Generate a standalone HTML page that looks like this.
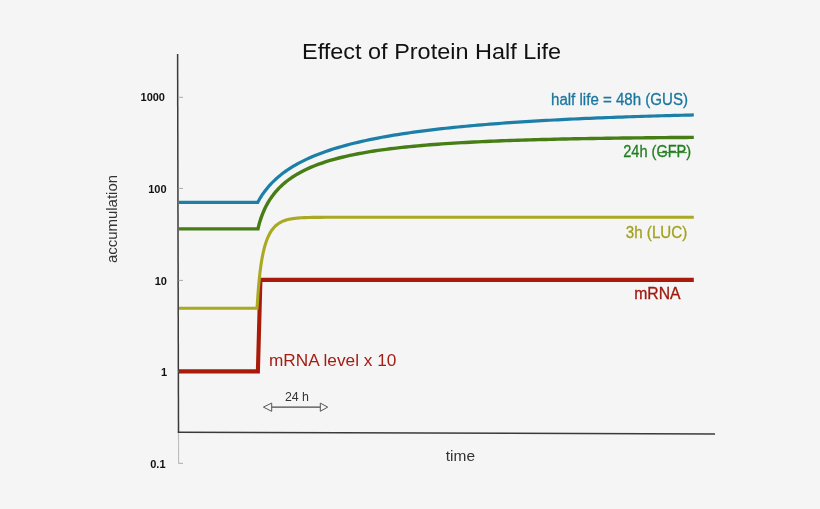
<!DOCTYPE html>
<html><head><meta charset="utf-8"><style>
html,body{margin:0;padding:0;background:#f5f5f5;}
svg{display:block;will-change:transform;}
text{font-family:"Liberation Sans",sans-serif;}
</style></head><body>
<svg width="820" height="509" viewBox="0 0 820 509">
<rect width="820" height="509" fill="#f5f5f5"/>
<text x="302" y="58.8" font-size="22.5" fill="#111" textLength="259" lengthAdjust="spacingAndGlyphs">Effect of Protein Half Life</text>
<!-- axes -->
<line x1="177.6" y1="54" x2="178.5" y2="432.8" stroke="#3a3a3a" stroke-width="1.5"/>
<line x1="178.5" y1="432.8" x2="178.6" y2="463.6" stroke="#bdbdbd" stroke-width="1.1"/>
<line x1="177.8" y1="432.3" x2="715" y2="433.9" stroke="#3a3a3a" stroke-width="1.5"/>
<g stroke="#aaa" stroke-width="1">
<line x1="178.5" y1="97.3" x2="183" y2="97.3"/>
<line x1="178.5" y1="188.4" x2="183" y2="188.4"/>
<line x1="178.5" y1="280.4" x2="183" y2="280.4"/>
<line x1="178.5" y1="371.6" x2="183" y2="371.6"/>
<line x1="178.5" y1="463.3" x2="183" y2="463.3"/>
</g>
<g font-size="11" font-weight="bold" fill="#111" text-anchor="end">
<text x="165" y="100.8">1000</text>
<text x="166.5" y="192.8">100</text>
<text x="167" y="284.8">10</text>
<text x="167" y="375.8">1</text>
<text x="165.5" y="467.8">0.1</text>
</g>
<text transform="translate(116.8,263) rotate(-90)" font-size="14.5" fill="#333" textLength="88" lengthAdjust="spacingAndGlyphs">accumulation</text>
<text x="445.8" y="460.6" font-size="14" fill="#333" textLength="29.2" lengthAdjust="spacingAndGlyphs">time</text>
<!-- data -->
<g fill="none" stroke-linejoin="miter">
<path d="M179,371.4 L257.9,371.4 L260.4,279.9 L693.8,279.9" stroke="#a81a0a" stroke-width="4.1"/>
<path d="M179.00,308.30 L257.00,308.30 L257.00,308.30 L257.25,304.97 L257.50,301.20 L257.75,297.50 L258.00,293.98 L258.25,290.65 L258.50,287.52 L258.75,284.58 L259.00,281.83 L259.25,279.24 L259.50,276.80 L259.75,274.51 L260.00,272.35 L261.00,264.78 L262.00,258.62 L263.00,253.49 L264.00,249.16 L265.00,245.46 L266.00,242.28 L267.00,239.51 L268.00,237.09 L269.00,234.97 L270.00,233.10 L271.00,231.44 L272.00,229.97 L273.00,228.66 L274.00,227.49 L275.00,226.44 L276.00,225.51 L277.00,224.67 L278.00,223.92 L279.00,223.25 L280.00,222.64 L281.00,222.10 L282.00,221.61 L283.00,221.17 L284.00,220.78 L285.00,220.42 L286.00,220.10 L287.00,219.81 L288.00,219.55 L289.00,219.32 L290.00,219.11 L291.00,218.92 L292.00,218.75 L293.00,218.60 L294.00,218.46 L295.00,218.34 L296.00,218.23 L297.00,218.13 L301.00,217.82 L305.00,217.63 L309.00,217.50 L313.00,217.42 L317.00,217.37 L321.00,217.33 L325.00,217.31 L329.00,217.30 L333.00,217.29 L337.00,217.29 L341.00,217.28 L345.00,217.28 L349.00,217.28 L353.00,217.28 L357.00,217.28 L361.00,217.28 L365.00,217.28 L369.00,217.28 L373.00,217.28 L377.00,217.28 L381.00,217.28 L385.00,217.28 L389.00,217.28 L393.00,217.28 L397.00,217.28 L401.00,217.28 L405.00,217.28 L409.00,217.28 L413.00,217.28 L417.00,217.28 L421.00,217.28 L425.00,217.28 L429.00,217.28 L433.00,217.28 L437.00,217.28 L441.00,217.28 L445.00,217.28 L449.00,217.28 L453.00,217.28 L457.00,217.28 L461.00,217.28 L465.00,217.28 L469.00,217.28 L473.00,217.28 L477.00,217.28 L481.00,217.28 L485.00,217.28 L489.00,217.28 L493.00,217.28 L497.00,217.28 L501.00,217.28 L505.00,217.28 L509.00,217.28 L513.00,217.28 L517.00,217.28 L521.00,217.28 L525.00,217.28 L529.00,217.28 L533.00,217.28 L537.00,217.28 L541.00,217.28 L545.00,217.28 L549.00,217.28 L553.00,217.28 L557.00,217.28 L561.00,217.28 L565.00,217.28 L569.00,217.28 L573.00,217.28 L577.00,217.28 L581.00,217.28 L585.00,217.28 L589.00,217.28 L593.00,217.28 L597.00,217.28 L601.00,217.28 L605.00,217.28 L609.00,217.28 L613.00,217.28 L617.00,217.28 L621.00,217.28 L625.00,217.28 L629.00,217.28 L633.00,217.28 L637.00,217.28 L641.00,217.28 L645.00,217.28 L649.00,217.28 L653.00,217.28 L657.00,217.28 L661.00,217.28 L665.00,217.28 L669.00,217.28 L673.00,217.28 L677.00,217.28 L681.00,217.28 L685.00,217.28 L689.00,217.28 L693.00,217.28 L693.80,217.28" stroke="#a9a923" stroke-width="3.1"/>
<path d="M179.00,228.90 L258.00,228.90 L258.00,228.90 L258.25,227.71 L258.50,226.65 L258.75,225.65 L259.00,224.70 L259.25,223.78 L259.50,222.89 L259.75,222.04 L260.00,221.21 L260.25,220.41 L260.50,219.63 L260.75,218.87 L261.00,218.13 L262.00,215.35 L263.00,212.82 L264.00,210.48 L265.00,208.32 L266.00,206.31 L267.00,204.43 L268.00,202.65 L269.00,200.99 L270.00,199.41 L271.00,197.91 L272.00,196.49 L273.00,195.14 L274.00,193.84 L275.00,192.61 L276.00,191.43 L277.00,190.29 L278.00,189.20 L279.00,188.16 L280.00,187.15 L281.00,186.18 L282.00,185.24 L283.00,184.34 L284.00,183.47 L285.00,182.62 L286.00,181.80 L287.00,181.01 L288.00,180.24 L289.00,179.50 L290.00,178.77 L291.00,178.07 L292.00,177.39 L293.00,176.73 L294.00,176.08 L295.00,175.45 L296.00,174.84 L297.00,174.24 L298.00,173.66 L302.00,171.48 L306.00,169.49 L310.00,167.67 L314.00,166.00 L318.00,164.46 L322.00,163.04 L326.00,161.71 L330.00,160.48 L334.00,159.33 L338.00,158.26 L342.00,157.25 L346.00,156.31 L350.00,155.42 L354.00,154.58 L358.00,153.79 L362.00,153.05 L366.00,152.34 L370.00,151.67 L374.00,151.04 L378.00,150.44 L382.00,149.87 L386.00,149.33 L390.00,148.81 L394.00,148.32 L398.00,147.86 L402.00,147.41 L406.00,146.99 L410.00,146.58 L414.00,146.19 L418.00,145.82 L422.00,145.47 L426.00,145.13 L430.00,144.81 L434.00,144.50 L438.00,144.20 L442.00,143.92 L446.00,143.65 L450.00,143.39 L454.00,143.14 L458.00,142.90 L462.00,142.67 L466.00,142.44 L470.00,142.23 L474.00,142.03 L478.00,141.83 L482.00,141.64 L486.00,141.46 L490.00,141.29 L494.00,141.12 L498.00,140.96 L502.00,140.81 L506.00,140.66 L510.00,140.51 L514.00,140.38 L518.00,140.24 L522.00,140.11 L526.00,139.99 L530.00,139.87 L534.00,139.76 L538.00,139.65 L542.00,139.54 L546.00,139.44 L550.00,139.34 L554.00,139.25 L558.00,139.16 L562.00,139.07 L566.00,138.98 L570.00,138.90 L574.00,138.82 L578.00,138.74 L582.00,138.67 L586.00,138.60 L590.00,138.53 L594.00,138.46 L598.00,138.40 L602.00,138.34 L606.00,138.28 L610.00,138.22 L614.00,138.17 L618.00,138.11 L622.00,138.06 L626.00,138.01 L630.00,137.96 L634.00,137.92 L638.00,137.87 L642.00,137.83 L646.00,137.78 L650.00,137.74 L654.00,137.70 L658.00,137.67 L662.00,137.63 L666.00,137.60 L670.00,137.56 L674.00,137.53 L678.00,137.50 L682.00,137.47 L686.00,137.44 L690.00,137.41 L693.80,137.38" stroke="#467d14" stroke-width="3.4"/>
<path d="M179.00,202.30 L257.80,202.30 L257.80,202.30 L258.05,201.81 L258.30,201.33 L258.55,200.87 L258.80,200.42 L259.05,199.97 L259.30,199.53 L259.55,199.10 L259.80,198.67 L260.05,198.25 L260.30,197.84 L260.55,197.43 L260.80,197.03 L261.80,195.47 L262.80,193.98 L263.80,192.56 L264.80,191.20 L265.80,189.90 L266.80,188.64 L267.80,187.44 L268.80,186.27 L269.80,185.15 L270.80,184.07 L271.80,183.02 L272.80,182.00 L273.80,181.02 L274.80,180.06 L275.80,179.13 L276.80,178.23 L277.80,177.36 L278.80,176.51 L279.80,175.68 L280.80,174.87 L281.80,174.08 L282.80,173.32 L283.80,172.57 L284.80,171.84 L285.80,171.12 L286.80,170.43 L287.80,169.75 L288.80,169.08 L289.80,168.43 L290.80,167.79 L291.80,167.17 L292.80,166.55 L293.80,165.96 L294.80,165.37 L295.80,164.79 L296.80,164.23 L297.80,163.68 L301.80,161.57 L305.80,159.60 L309.80,157.77 L313.80,156.05 L317.80,154.44 L321.80,152.92 L325.80,151.49 L329.80,150.13 L333.80,148.84 L337.80,147.62 L341.80,146.46 L345.80,145.35 L349.80,144.29 L353.80,143.28 L357.80,142.32 L361.80,141.39 L365.80,140.51 L369.80,139.66 L373.80,138.84 L377.80,138.06 L381.80,137.30 L385.80,136.58 L389.80,135.88 L393.80,135.20 L397.80,134.55 L401.80,133.93 L405.80,133.32 L409.80,132.73 L413.80,132.17 L417.80,131.62 L421.80,131.09 L425.80,130.58 L429.80,130.08 L433.80,129.60 L437.80,129.13 L441.80,128.68 L445.80,128.24 L449.80,127.81 L453.80,127.40 L457.80,127.00 L461.80,126.61 L465.80,126.23 L469.80,125.86 L473.80,125.50 L477.80,125.15 L481.80,124.81 L485.80,124.48 L489.80,124.16 L493.80,123.85 L497.80,123.54 L501.80,123.25 L505.80,122.96 L509.80,122.68 L513.80,122.40 L517.80,122.14 L521.80,121.88 L525.80,121.62 L529.80,121.38 L533.80,121.13 L537.80,120.90 L541.80,120.67 L545.80,120.44 L549.80,120.23 L553.80,120.01 L557.80,119.80 L561.80,119.60 L565.80,119.40 L569.80,119.21 L573.80,119.02 L577.80,118.83 L581.80,118.65 L585.80,118.47 L589.80,118.30 L593.80,118.13 L597.80,117.97 L601.80,117.81 L605.80,117.65 L609.80,117.50 L613.80,117.34 L617.80,117.20 L621.80,117.05 L625.80,116.91 L629.80,116.77 L633.80,116.64 L637.80,116.51 L641.80,116.38 L645.80,116.25 L649.80,116.13 L653.80,116.01 L657.80,115.89 L661.80,115.77 L665.80,115.66 L669.80,115.55 L673.80,115.44 L677.80,115.33 L681.80,115.23 L685.80,115.13 L689.80,115.03 L693.80,114.93" stroke="#1c7fa8" stroke-width="3.2"/>
</g>
<text x="551" y="104.9" font-size="16" fill="#1a76a0" stroke="#1a76a0" stroke-width="0.3" textLength="137" lengthAdjust="spacingAndGlyphs">half life = 48h (GUS)</text>
<text x="623.2" y="157" font-size="16" fill="#1f7f1f" stroke="#1f7f1f" stroke-width="0.3" textLength="68" lengthAdjust="spacingAndGlyphs">24h (GFP)</text>
<text x="625.8" y="238.1" font-size="16.5" fill="#a2a21c" stroke="#a2a21c" stroke-width="0.3" textLength="61.5" lengthAdjust="spacingAndGlyphs">3h (LUC)</text>
<text x="634.2" y="298.7" font-size="15.8" fill="#a01a10" stroke="#a01a10" stroke-width="0.3" textLength="46.4" lengthAdjust="spacingAndGlyphs">mRNA</text>
<text x="269" y="366.4" font-size="16" fill="#a51d12" textLength="127.3" lengthAdjust="spacingAndGlyphs">mRNA level x 10</text>
<text x="284.9" y="400.75" font-size="13" fill="#333" textLength="24.1" lengthAdjust="spacingAndGlyphs">24 h</text>
<line x1="658.3" y1="152.6" x2="686.8" y2="152.6" stroke="#3d8a35" stroke-width="1.1"/>
<!-- arrow -->
<line x1="271.7" y1="407.1" x2="320.3" y2="407.1" stroke="#4a4a4a" stroke-width="1.3"/>
<path d="M263.4,407.1 L271.7,403.1 L271.7,411.3 Z" fill="none" stroke="#555" stroke-width="1"/>
<path d="M327.7,407.1 L320.3,403.1 L320.3,411.3 Z" fill="none" stroke="#555" stroke-width="1"/>
</svg>
</body></html>
